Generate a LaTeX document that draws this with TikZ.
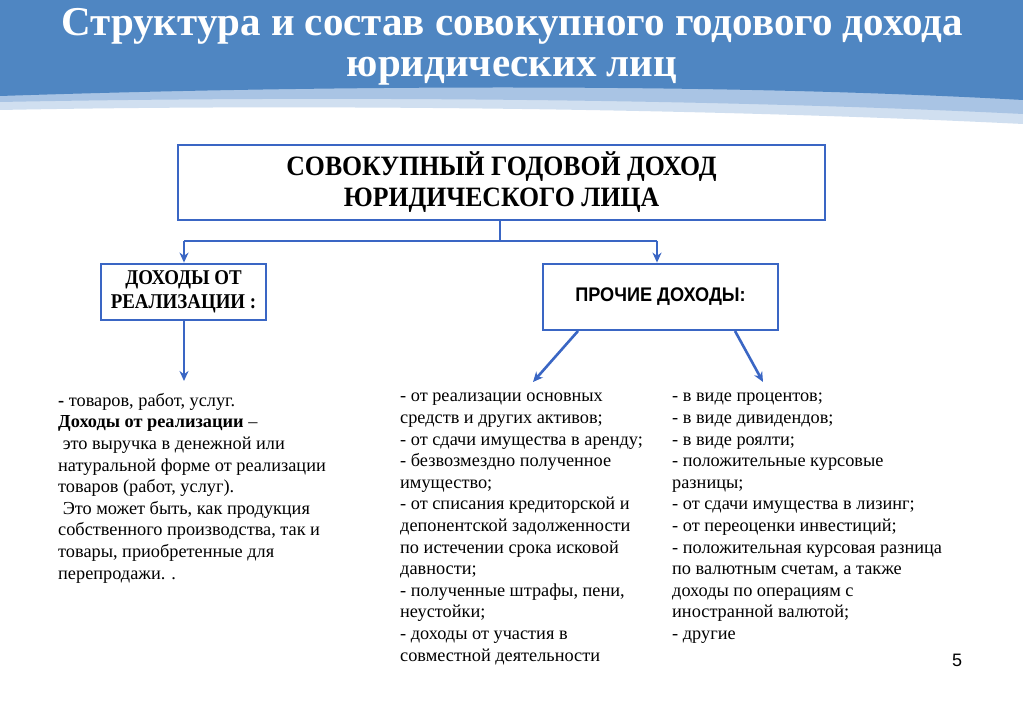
\documentclass[tikz,border=0pt]{standalone}
\usepackage{fontspec}
\setmainfont{Liberation Serif}
\newfontfamily\sansf{Liberation Sans}
\usetikzlibrary{arrows.meta}
\definecolor{hdr}{HTML}{4F86C2}
\definecolor{hdrl}{HTML}{A9C4E4}
\definecolor{bx}{HTML}{3A66C4}
\begin{document}
\begin{tikzpicture}[x=1pt,y=-1pt,
  box/.style={draw=bx,line width=2.8pt,fill=white,inner sep=0pt,align=center,font=\bfseries},
  conn/.style={draw=bx,line width=2.6pt,-{Stealth[length=10pt,width=9pt]}},
  col/.style={anchor=north west,align=left,inner sep=0pt,font=\fontsize{18.3}{21.6}\selectfont}]
\useasboundingbox (0,0) rectangle (1023,708);
\fill[white] (0,0) rectangle (1023,708);
% header
\fill[hdrl!55] (0,110) .. controls (300,104) and (700,108) .. (1023,124) -- (1023,0) -- (0,0) -- cycle;
\fill[hdrl] (0,102) .. controls (300,96) and (700,98) .. (1023,114) -- (1023,0) -- (0,0) -- cycle;
\fill[hdr] (0,96) .. controls (300,86) and (700,82) .. (1023,100) -- (1023,0) -- (0,0) -- cycle;
\node[text=white,font=\fontsize{41}{46}\selectfont\bfseries] (t1) at (512,26) {\scalebox{1.0}[1]{Структура и состав совокупного годового дохода}};
\node[text=white,font=\fontsize{41}{46}\selectfont\bfseries] (t2) at (512,71) {\scalebox{1.0}[1]{юридических лиц}};
% boxes
\node[box,minimum width=647pt,minimum height=75pt,font=\fontsize{28}{31}\selectfont\bfseries] (main) at (501.5,182.5) {\scalebox{0.92}[1]{СОВОКУПНЫЙ ГОДОВОЙ ДОХОД}\\\scalebox{0.92}[1]{ЮРИДИЧЕСКОГО ЛИЦА}};
\node[box,minimum width=165pt,minimum height=56pt,font=\fontsize{21}{24}\selectfont\bfseries] (left) at (183.5,292) {\scalebox{0.9}[1]{ДОХОДЫ ОТ}\\\scalebox{0.9}[1]{РЕАЛИЗАЦИИ :}};
\node[box,minimum width=235pt,minimum height=66pt,font=\sansf\fontsize{19.7}{22}\selectfont\bfseries] (right) at (660.5,297) {\scalebox{0.92}[1]{ПРОЧИЕ ДОХОДЫ:}};
\coordinate (j) at (500,241);
\coordinate (jl) at (184,241);
\coordinate (jr) at (657,241);
\draw[draw=bx,line width=2.6pt] (main.south -| j) -- (j);
\draw[draw=bx,line width=2.6pt] (jl) -- (jr);
\draw[conn] (jl) -- (left.north -| jl);
\draw[conn] (jr) -- (right.north -| jr);
\coordinate (a1) at (184,381);
\coordinate (a2) at (533,382);
\coordinate (a3) at (763,382);
\draw[conn] (left.south -| a1) -- (a1);
\draw[conn] (578,331) -- (a2);
\draw[conn] (735,331) -- (a3);
% columns
\node[col] (c1) at (58,393) {\textbf{-} товаров, работ, услуг.\\
\textbf{Доходы от реализации} –\\
\ это выручка в денежной или\\
натуральной форме от реализации\\
товаров (работ, услуг).\\
\ Это может быть, как продукция\\
собственного производства, так и\\
товары, приобретенные для\\
перепродажи. .};
\node[col] (c2) at (400,393) {- от реализации основных\\
средств и других активов;\\
- от сдачи имущества в аренду;\\
- безвозмездно полученное\\
имущество;\\
- от списания кредиторской и\\
депонентской задолженности\\
по истечении срока исковой\\
давности;\\
- полученные штрафы, пени,\\
неустойки;\\
- доходы от участия в\\
совместной деятельности};
\node[col] (c3) at (672,393) {- в виде процентов;\\
- в виде дивидендов;\\
- в виде роялти;\\
- положительные курсовые\\
разницы;\\
- от сдачи имущества в лизинг;\\
- от переоценки инвестиций;\\
- положительная курсовая разница\\
по валютным счетам, а также\\
доходы по операциям с\\
иностранной валютой;\\
- другие};
\node[font=\sansf\fontsize{18}{20}\selectfont] (pg) at (957,660) {5};
\end{tikzpicture}
\end{document}
